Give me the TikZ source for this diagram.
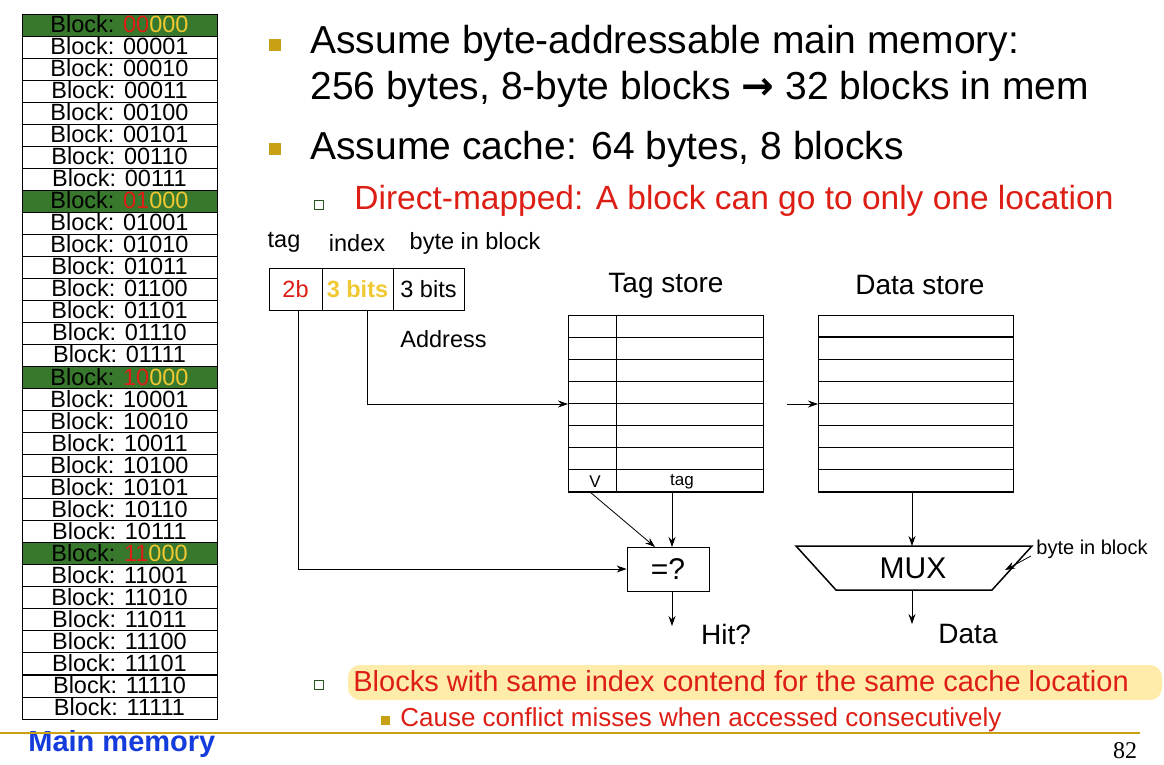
\documentclass[tikz,border=0pt]{standalone}
\usepackage{fontspec}
\setmainfont{Liberation Sans}
\newfontfamily\serifnum{Liberation Serif}
\newfontfamily\arrowfont{DejaVu Sans}
\usetikzlibrary{arrows.meta}
\definecolor{blkgreen}{RGB}{56,120,44}
\definecolor{bitred}{RGB}{220,30,20}
\definecolor{bityel}{RGB}{240,200,50}
\definecolor{olive}{RGB}{200,160,20}
\definecolor{hl}{RGB}{255,236,170}
\definecolor{mmblue}{RGB}{20,60,220}
\begin{document}
\begin{tikzpicture}[x=1pt,y=-1pt,line width=0.8pt,
  blk/.style={draw,minimum width=195pt,minimum height=22pt,inner sep=0pt,font=\fontsize{23.5}{23.5}\selectfont,text depth=2pt},
  cell/.style={draw},
  lbl/.style={font=\fontsize{23.5}{23.5}\selectfont,inner sep=0pt},
  big/.style={font=\fontsize{39}{39}\selectfont,anchor=west,inner sep=0pt},
  arr/.style={-{Stealth[length=10pt,width=7pt]}}]
\useasboundingbox (0,0) rectangle (1164,764);
% main memory column
\foreach \i/\code in {0/00000,1/00001,2/00010,3/00011,4/00100,5/00101,6/00110,7/00111,
 8/01000,9/01001,10/01010,11/01011,12/01100,13/01101,14/01110,15/01111,
 16/10000,17/10001,18/10010,19/10011,20/10100,21/10101,22/10110,23/10111,
 24/11000,25/11001,26/11010,27/11011,28/11100,29/11101,30/11110,31/11111}{
  \node[blk] (m\i) at (119.5,{25+22.03*\i}) {Block: \code};
}
\foreach \i/\hi in {0/00,8/01,16/10,24/11}{
  \node[blk,fill=blkgreen] at (m\i) {Block: \textcolor{bitred}{\hi}\textcolor{bityel}{000}};
}
\node[font=\fontsize{29}{29}\selectfont\bfseries,text=mmblue,anchor=west,inner sep=0pt] (mm) at (28,744) {Main memory};
\draw[olive,line width=2.5pt] (0,733) -- (1140,733);
\node[font=\fontsize{24}{24}\serifnum,inner sep=0pt] (pg) at (1125,751) {82};
% bullets
\fill[olive] (269,39) rectangle (281,51);
\node[big] (t1) at (310,43) {Assume byte-addressable main memory:};
\node[big] (t2) at (310,89) {256 bytes, 8-byte blocks {\arrowfont\bfseries →} 32 blocks in mem};
\fill[olive] (269,143) rectangle (281,155);
\node[big] (t3) at (310,149) {Assume cache: 64 bytes, 8 blocks};
\draw[blkgreen!70!black,thick] (314,200) rectangle (323,209);
\node[big,font=\fontsize{33.5}{33.5}\selectfont,text=bitred] (t4) at (354,201) {Direct-mapped: A block can go to only one location};
% address
\node[lbl] (ltag) at (284,242) {tag};
\node[lbl] (lidx) at (357,243) {index};
\node[lbl] (lbib) at (475,243) {byte in block};
\node[draw,minimum width=53pt,minimum height=42pt,inner sep=0pt,lbl,text=bitred] (a1) at (295.5,289) {2b};
\node[draw,minimum width=71pt,minimum height=42pt,inner sep=0pt,lbl,text=bityel,font=\fontsize{23.5}{23.5}\selectfont\bfseries] (a2) at (357.5,289) {3 bits};
\node[draw,minimum width=71pt,minimum height=42pt,inner sep=0pt,lbl] (a3) at (428.5,289) {3 bits};
\node[lbl,anchor=west] (addr) at (400,339) {Address};
% tag store
\node[lbl,font=\fontsize{28}{28}\selectfont] (ts) at (666,286) {Tag store};
\foreach \k in {0,...,8}{\draw[cell] (568,{315+22.1*\k}) -- (763,{315+22.1*\k});}
\draw[line width=1.5pt] (568,403.4) -- (763,403.4);
\draw[cell] (568,315) rectangle (763,492);
\draw[cell] (616,315) -- (616,492);
\node[font=\fontsize{17}{17}\selectfont,inner sep=0pt] (vv) at (595,482) {V};
\node[font=\fontsize{17}{17}\selectfont,inner sep=0pt] (tt) at (682,482) {tag};
% data store
\node[lbl,font=\fontsize{28}{28}\selectfont] (dsl) at (920,285) {Data store};
\foreach \k in {0,...,8}{\draw[cell] (818,{315+22.1*\k}) -- (1013,{315+22.1*\k});}
\draw[line width=1.5pt] (818,337) -- (1013,337);
\draw[cell] (818,315) rectangle (1013,492);
% comparator and mux
\node[draw,minimum width=82pt,minimum height=44pt,inner sep=0pt,font=\fontsize{30}{30}\selectfont] (cmp) at (668,569) {=?};
\draw[line width=1.5pt] (796,546) -- (1032,546) -- (992,590) -- (836,590) -- cycle;
\node[font=\fontsize{30}{30}\selectfont,inner sep=0pt] (mux) at (913,568) {MUX};
\node[font=\fontsize{20}{20}\selectfont,inner sep=0pt,anchor=west] (bib) at (1036,549) {byte in block};
\node[font=\fontsize{28}{28}\selectfont,inner sep=0pt] (hit) at (726,634) {Hit?};
\node[font=\fontsize{28}{28}\selectfont,inner sep=0pt] (dat) at (968,634) {Data};
\coordinate (tsin) at (568,404);
\coordinate (dsin) at (818,404);
\coordinate (dsout) at (912,492);
\coordinate (muxin) at (912,546);
\coordinate (muxout) at (912,590);
\draw[arr] (a2.south) ++(10,0) |- (tsin);
\draw[arr] (787,404) -- (dsin);
\draw[arr] (a1.south) ++(3,0) |- (cmp.west);
\draw[arr] (590,492) -- (655,547);
\draw[arr] (672,492) -- (672,547);
\draw[arr] (672,591) -- (672,626);
\draw[arr] (dsout) -- (muxin);
\draw[arr] (muxout) -- (912,624);
\draw[arr] (1031,556) -- (1005,570);
% bottom bullets
\fill[hl,rounded corners=12pt] (348,665) rectangle (1162,700);
\draw[blkgreen!70!black,thick] (314,680) rectangle (323,689);
\node[big,font=\fontsize{29}{29}\selectfont,text=bitred] (t5) at (353,681) {Blocks with same index contend for the same cache location};
\fill[olive] (381,716) rectangle (390,725);
\node[big,font=\fontsize{26}{26}\selectfont,text=bitred] (t6) at (400,720) {Cause conflict misses when accessed consecutively};
\end{tikzpicture}
\end{document}
